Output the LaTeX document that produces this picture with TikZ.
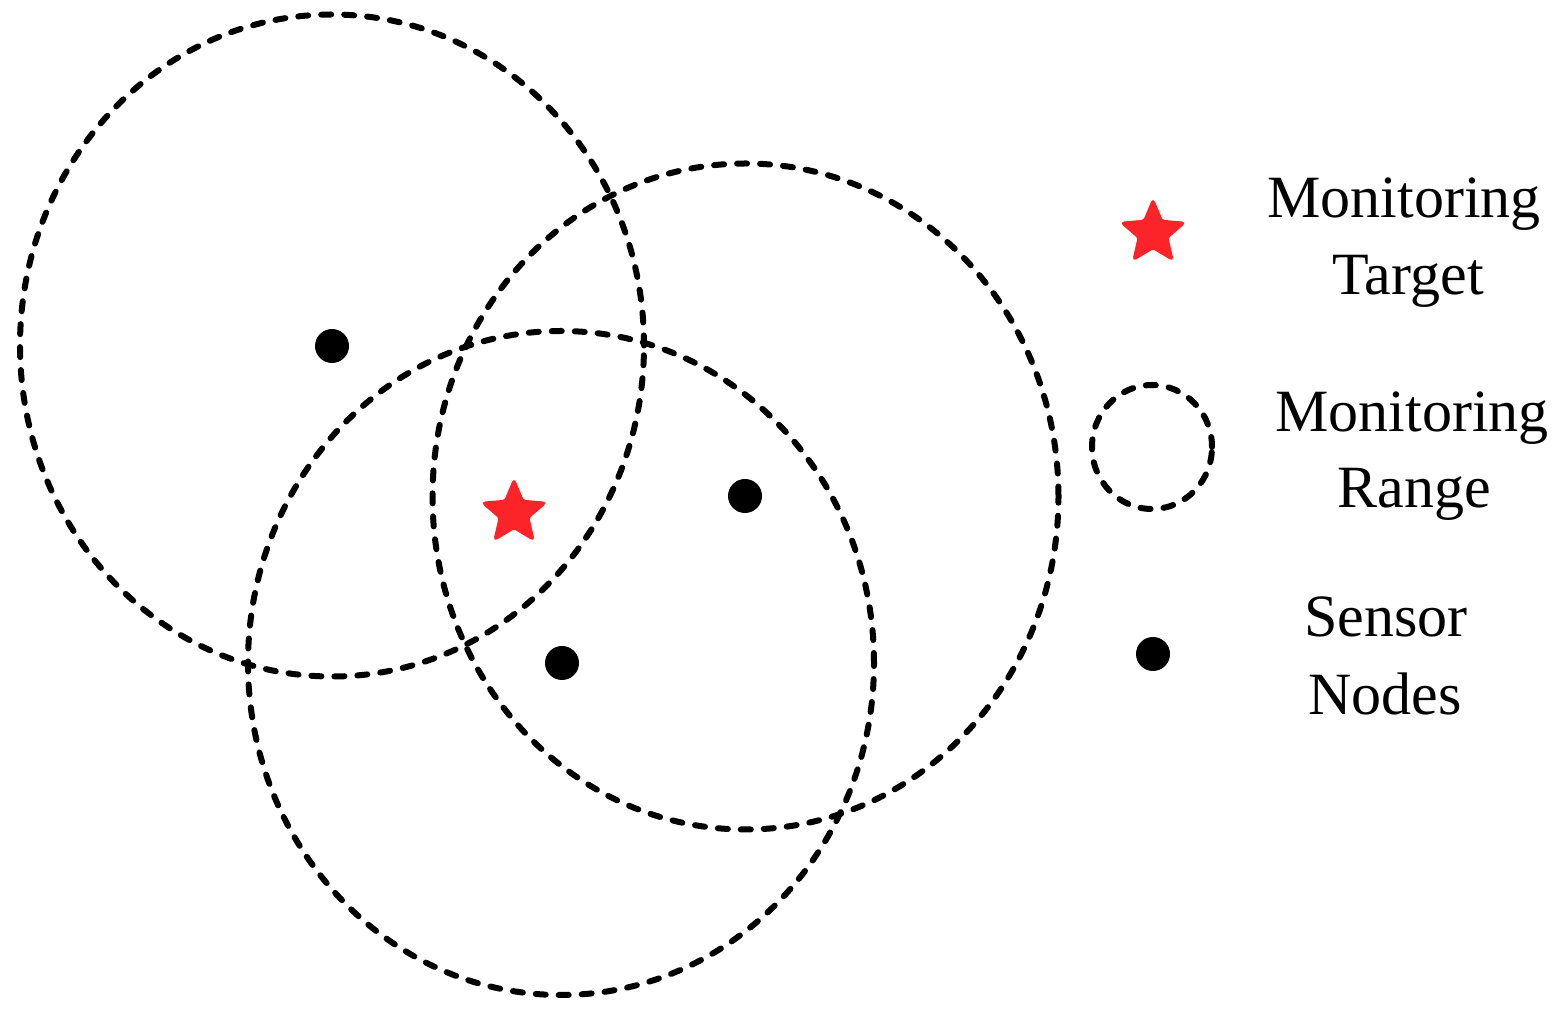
\documentclass[tikz,border=0pt]{standalone}
\usepackage{fontspec}
\setmainfont{Liberation Serif}
\usetikzlibrary{shapes.geometric}
\definecolor{starred}{RGB}{252,36,40}
\tikzset{
  rangeline/.style={draw=black, line width=3pt, line cap=round, dash pattern=on 5pt off 6.5pt},
  sensornode/.style={circle, fill=black, minimum size=17pt, inner sep=0pt},
  targetstar/.style={star, star points=5, star point ratio=2.2, minimum size=32pt, inner sep=0pt,
                 fill=starred, draw=starred, line width=1.5pt, rounded corners=1pt},
  lbl/.style={anchor=base, inner sep=0pt, font=\fontsize{30}{36}\selectfont}
}
\begin{document}
\begin{tikzpicture}[x=0.5pt, y=-0.5pt]
\useasboundingbox (0,0) rectangle (1564,1020);
% ranges
\coordinate (cA) at (332,345.5);
\coordinate (cB) at (745.5,496.5);
\coordinate (cC) at (561,663);
\coordinate (cL) at (1152,447);
\draw[rangeline] (cA) ellipse [x radius=156pt, y radius=165.5pt];
\draw[rangeline] (cB) ellipse [x radius=156.5pt, y radius=166.5pt];
\draw[rangeline] (cC) ellipse [x radius=156.5pt, y radius=166pt];
\draw[rangeline] (cL) ellipse [x radius=30pt, y radius=31pt];
% sensors
\node[sensornode] (sA) at (332,346) {};
\node[sensornode] (sB) at (745,496) {};
\node[sensornode] (sC) at (562,663) {};
\node[sensornode] (sL) at (1153,654) {};
% targets
\node[targetstar] (t) at (514,513) {};
\node[targetstar] (tL) at (1153,233) {};
% legend text
\node[lbl] (l1a) at (1404,218) {Monitoring};
\node[lbl] (l1b) at (1408,295) {Target};
\node[lbl] (l2a) at (1412,432) {Monitoring};
\node[lbl] (l2b) at (1414,508) {Range};
\node[lbl] (l3a) at (1386,637) {Sensor};
\node[lbl] (l3b) at (1385,715) {Nodes};
\end{tikzpicture}
\end{document}
